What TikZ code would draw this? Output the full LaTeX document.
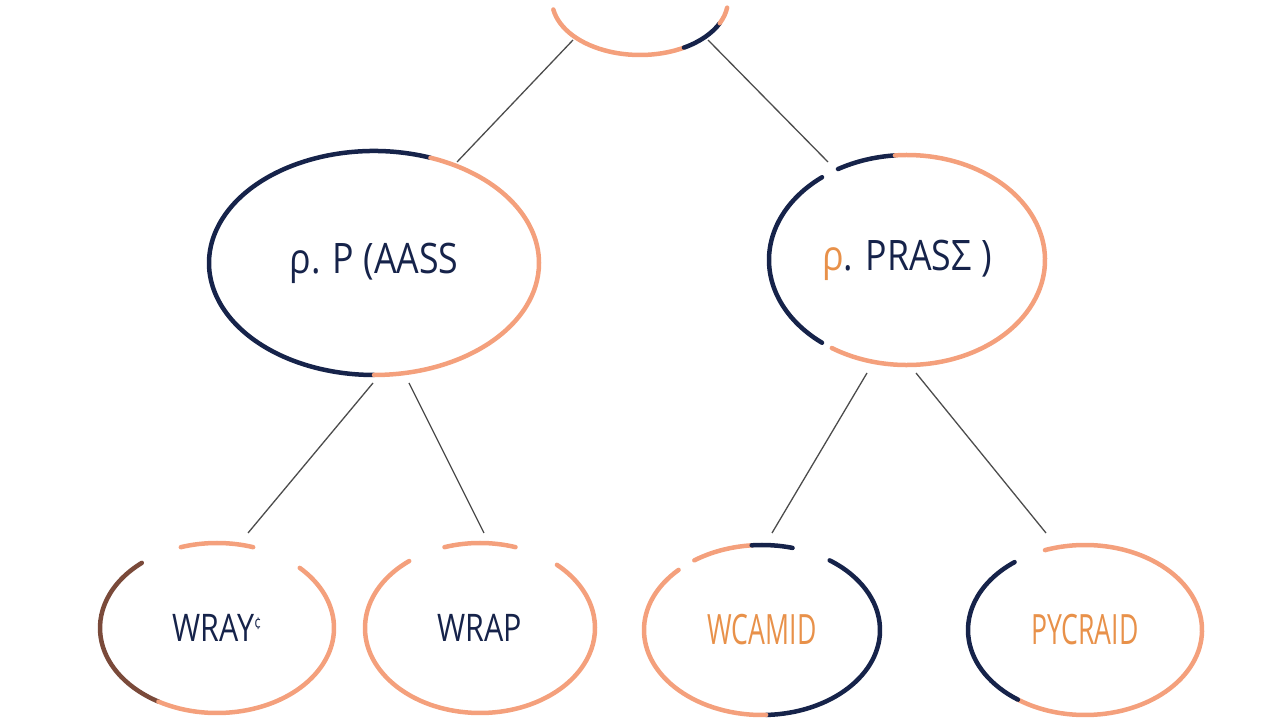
\documentclass[tikz,border=0pt]{standalone}
\usepackage{fontspec}
\setmainfont{Open Sans}
\usetikzlibrary{shapes.geometric}
\definecolor{navy}{HTML}{16234A}
\definecolor{salm}{HTML}{F4A07C}
\definecolor{orn}{HTML}{E8914A}
\definecolor{brn}{HTML}{7A4A3A}
\begin{document}
\begin{tikzpicture}[x=1pt,y=1pt,
  ring/.style={line width=4.5pt,line cap=round},
  edge/.style={line width=1.3pt,draw=black!70},
  lbl/.style={font=\fontsize{42}{48}\selectfont,text=navy},
  leaf/.style={font=\fontsize{38}{44}\selectfont,text=navy}]
\useasboundingbox (0,0) rectangle (1280,720);
% nodes (ellipse placeholders)
\node[ellipse,minimum width=176,minimum height=110] (t) at (640,720) {};
\node[ellipse,minimum width=330,minimum height=224,lbl] (l) at (374,457) {\scalebox{0.85}[1]{ρ. P (AASS}};
\node[ellipse,minimum width=276,minimum height=210,lbl] (r) at (907,460) {\scalebox{0.85}[1]{\textcolor{orn}{ρ}. PRASΣ )}};
\node[ellipse,minimum width=234,minimum height=170,leaf] (ll) at (217,92) {\scalebox{0.8}[1]{WRAY\raisebox{12pt}{\fontsize{16}{16}\selectfont ¢}}};
\node[ellipse,minimum width=230,minimum height=170,leaf] (lr) at (480,92) {\scalebox{0.8}[1]{WRAP}};
\node[ellipse,minimum width=236,minimum height=170,leaf,text=orn] (rl) at (762,90) {\scalebox{0.7}[1.1]{WCAMID}};
\node[ellipse,minimum width=234,minimum height=170,leaf,text=orn] (rr) at (1085,90) {\scalebox{0.7}[1.1]{PYCRAID}};
% rings
\def\rg#1#2#3#4#5#6{\draw[ring,#1] (#2) ++(#5:#3 and #4) arc[start angle=#5,end angle=#6,x radius=#3,y radius=#4];}
\rg{salm}{t.center}{88}{55}{190}{300}
\rg{navy}{t.center}{88}{55}{300}{335}
\rg{salm}{t.center}{88}{55}{335}{352}
\rg{navy}{l.center}{165}{112}{70}{270}
\rg{salm}{l.center}{165}{112}{270}{430}
\rg{navy}{r.center}{138}{105}{95}{120}
\rg{navy}{r.center}{138}{105}{128}{232}
\rg{salm}{r.center}{138}{105}{237}{455}
\rg{salm}{ll.center}{117}{85}{72}{108}
\rg{brn}{ll.center}{117}{85}{130}{240}
\rg{salm}{ll.center}{117}{85}{240}{405}
\rg{salm}{lr.center}{115}{85}{72}{108}
\rg{salm}{lr.center}{115}{85}{128}{408}
\rg{salm}{rl.center}{118}{85}{95}{125}
\rg{navy}{rl.center}{118}{85}{75}{95}
\rg{navy}{rl.center}{118}{85}{-88}{55}
\rg{salm}{rl.center}{118}{85}{135}{272}
\rg{salm}{rr.center}{117}{85}{-125}{110}
\rg{navy}{rr.center}{117}{85}{127}{235}
% edge end points
\coordinate (a1) at (573,680); \coordinate (b1) at (457,558);
\coordinate (a2) at (708,680); \coordinate (b2) at (828,558);
\coordinate (a3) at (373,337); \coordinate (b3) at (248,187);
\coordinate (a4) at (409,337); \coordinate (b4) at (484,187);
\coordinate (a5) at (867,347); \coordinate (b5) at (772,187);
\coordinate (a6) at (916,347); \coordinate (b6) at (1046,187);
\draw[edge] (a1) -- (b1);
\draw[edge] (a2) -- (b2);
\draw[edge] (a3) -- (b3);
\draw[edge] (a4) -- (b4);
\draw[edge] (a5) -- (b5);
\draw[edge] (a6) -- (b6);
\end{tikzpicture}
\end{document}
